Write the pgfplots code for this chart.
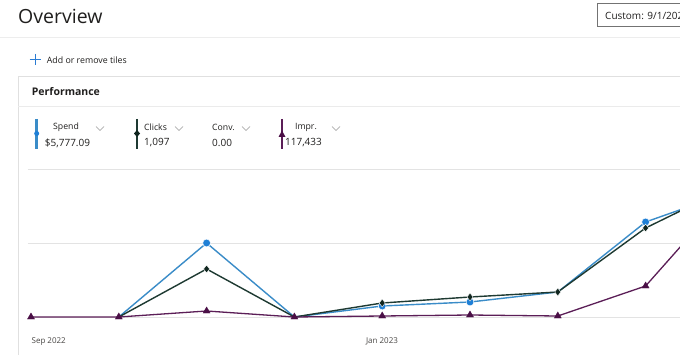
\documentclass[border=0pt]{standalone}
\usepackage{pgfplots}
\pgfplotsset{compat=1.18}
\usepackage{fontspec}
\setmainfont{Open Sans}
\definecolor{spend}{HTML}{3A8CC8}
\definecolor{spendm}{HTML}{1E7FD6}
\definecolor{clicks}{HTML}{1E3A32}
\definecolor{clicksm}{HTML}{10261F}
\definecolor{impr}{HTML}{5B1E57}
\definecolor{imprm}{HTML}{4A0F46}
\definecolor{gridc}{HTML}{E3E3E3}
\definecolor{txt}{HTML}{201F1E}
\definecolor{sub}{HTML}{484644}
\definecolor{plusc}{HTML}{2B7CD3}
\begin{document}
\begin{tikzpicture}
\useasboundingbox[fill=white] (0,0) rectangle (680pt,354pt);
\begin{scope}[x=1pt,y=-1pt,shift={(0pt,354pt)}]
  % header
  \draw[color=black!7, line width=0.8pt] (0,37.5) -- (680,37.5);
  \node[anchor=base west, inner sep=0, font=\fontsize{19.5}{22}\selectfont, text=txt] at (18,24) {Overview};
  \draw[draw=black!55, fill=white, line width=0.6pt] (597,3.5) rectangle (700,26.7);
  \node[anchor=west, inner sep=0, font=\fontsize{10}{12}\selectfont, text=txt] at (605,15.5) {Custom: 9/1/2022};
  \draw[plusc, line width=1pt] (29.5,59.5) -- (40.5,59.5) (35,54) -- (35,65);
  \node[anchor=west, inner sep=0, font=\fontsize{8.8}{10}\selectfont, text=txt] at (46.7,60) {Add or remove tiles};
  % panel
  \draw[black!12, line width=0.8pt] (18,360) -- (18,76) -- (700,76);
  \draw[black!8, line width=0.8pt] (18,106.7) -- (700,106.7);
  \node[anchor=west, inner sep=0, font=\bfseries\fontsize{10.5}{12}\selectfont, text=txt] at (31.7,92) {Performance};
  % legend tiles
  \draw[spend, line width=2.6pt] (36.7,119) -- (36.7,149);
  \fill[spendm] (36.7,133.5) circle (2.5);
  \draw[clicks, line width=2.6pt] (137,119) -- (137,149);
  \fill[clicksm] (137,130) -- (140,133.5) -- (137,137) -- (134,133.5) -- cycle;
  \draw[impr, line width=2.6pt] (282,119) -- (282,149);
  \fill[imprm] (282,130.5) -- (285.5,137) -- (278.5,137) -- cycle;
  \node[inner sep=0, font=\fontsize{8.7}{10}\selectfont, text=txt] at (66,127.5) {Spend};
  \node[inner sep=0, font=\fontsize{10}{12}\selectfont, text=txt] at (67.5,143) {\$5,777.09};
  \node[inner sep=0, anchor=west, font=\fontsize{8.7}{10}\selectfont, text=txt] at (144,127.5) {Clicks};
  \node[inner sep=0, anchor=west, font=\fontsize{10}{12}\selectfont, text=txt] at (144,143) {1,097};
  \node[inner sep=0, anchor=west, font=\fontsize{8.7}{10}\selectfont, text=txt] at (212,127.5) {Conv.};
  \node[inner sep=0, anchor=west, font=\fontsize{10}{12}\selectfont, text=txt] at (212,143) {0.00};
  \node[inner sep=0, font=\fontsize{8.7}{10}\selectfont, text=txt] at (306,127.5) {Impr.};
  \node[inner sep=0, font=\fontsize{10}{12}\selectfont, text=txt] at (303.5,143) {117,433};
  \foreach \cx in {100,179,246,336} {
    \draw[black!40, line width=0.6pt] (\cx-4,126.5) -- (\cx,130.5) -- (\cx+4,126.5);
  }
  % x labels
  \node[inner sep=0, font=\fontsize{8}{10}\selectfont, text=sub] at (48.7,341.7) {Sep 2022};
  \node[inner sep=0, font=\fontsize{8}{10}\selectfont, text=sub] at (382,341.7) {Jan 2023};
\end{scope}
\begin{axis}[
  at={(28pt,33pt)}, anchor=south west,
  scale only axis, width=652pt, height=156pt,
  xmin=-0.0342, xmax=7.3918, ymin=-4, ymax=152,
  clip=false,
  axis line style={draw=none},
  tick style={draw=none},
  xtick=\empty,
  ytick={0,74,148}, yticklabels={},
  ymajorgrids, grid style={gridc, line width=0.8pt},
]
\addplot[spend, line width=1.4pt, mark=*, mark size=3.9pt, mark indices={2,4,5,7,8},
  mark options={fill=spendm, draw=white, line width=0.5pt}]
  coordinates {(1,0) (2,74) (3,0) (4,11) (5,15) (6,25) (7,95) (8,126)};
\addplot[clicks, line width=1.4pt, mark=diamond*, mark size=4pt, mark indices={2,4,5,6,7,8},
  mark options={fill=clicksm, draw=white, line width=0.4pt}]
  coordinates {(1,0) (2,48) (3,0) (4,14) (5,20) (6,25) (7,89) (8,132)};
\addplot[impr, line width=1.3pt, mark=triangle*, mark size=4.2pt,
  mark options={fill=imprm, draw=imprm, line width=0.2pt}]
  coordinates {(0,0) (1,0) (2,6) (3,0) (4,1) (5,2) (6,1) (7,31) (8,130)};
\end{axis}
\end{tikzpicture}
\end{document}
